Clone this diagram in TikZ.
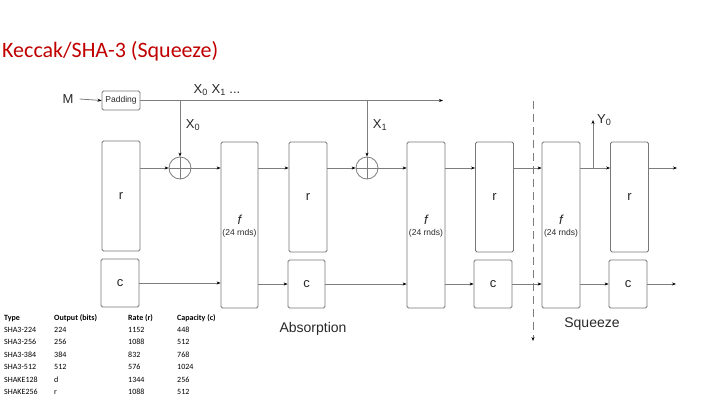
\documentclass[tikz,border=0pt]{standalone}
\usepackage{fontspec}
\setmainfont{Liberation Sans}
\newfontfamily\calib{Carlito}
\usetikzlibrary{arrows.meta}
\definecolor{titlered}{RGB}{192,0,0}
\definecolor{lgray}{RGB}{125,125,125}
\definecolor{bgray}{RGB}{120,120,120}
\definecolor{txtgray}{RGB}{40,40,40}
\begin{document}
\begin{tikzpicture}[x=1pt,y=-1pt,
  every node/.style={inner sep=0pt, text=txtgray},
  blk/.style={draw=bgray, line width=0.8pt, rounded corners=1.5pt, fill=white},
  xorc/.style={circle, draw=lgray, line width=0.8pt, minimum size=22pt, inner sep=0pt,
    path picture={\draw[lgray, line width=0.8pt] (path picture bounding box.north) -- (path picture bounding box.south)
      (path picture bounding box.west) -- (path picture bounding box.east);}},
  arr/.style={draw=lgray, line width=0.8pt, -{Stealth[length=4pt,width=3pt,color=black]}},
  lab/.style={font=\fontsize{14}{16}\selectfont},
  tab/.style={anchor=base west, font=\calib\fontsize{8}{9}\selectfont, text=black},
  tabh/.style={anchor=base west, font=\calib\bfseries\fontsize{8}{9}\selectfont, text=black}]
\useasboundingbox (0,0) rectangle (720,405);
% title
\node[anchor=base west, font=\calib\fontsize{22}{26}\selectfont, text=titlered] (title) at (2,57) {Keccak/SHA-3 (Squeeze)};
% helper coordinate for the upper line level
\coordinate (U) at (0,168);
% input
\node[font=\fontsize{13}{15}\selectfont] (M) at (68,99) {M};
\node[blk, minimum width=38pt, minimum height=19pt, font=\fontsize{8.5}{10}\selectfont] (pad) at (121,100.5) {Padding};
\coordinate (topend) at (443,100.5);
\node[font=\fontsize{13}{15}\selectfont] (xs) at (217,90) {X\textsubscript{0} X\textsubscript{1} ...};
% boxes
\node[blk, minimum width=38pt, minimum height=110pt, font=\fontsize{13}{15}\selectfont] (r1) at (121,196) {r};
\node[blk, minimum width=38pt, minimum height=48pt, font=\fontsize{13}{15}\selectfont] (c1) at (120,283) {c};
\node[blk, minimum width=37pt, minimum height=166pt] (f1) at (239.5,225) {};
\node[blk, minimum width=38pt, minimum height=110pt, font=\fontsize{13}{15}\selectfont] (r2) at (308,197) {r};
\node[blk, minimum width=37pt, minimum height=48pt, font=\fontsize{13}{15}\selectfont] (c2) at (306.5,284) {c};
\node[blk, minimum width=38pt, minimum height=166pt] (f2) at (426,225) {};
\node[blk, minimum width=38pt, minimum height=110pt, font=\fontsize{13}{15}\selectfont] (r3) at (494.5,197) {r};
\node[blk, minimum width=38pt, minimum height=48pt, font=\fontsize{13}{15}\selectfont] (c3) at (493,284) {c};
\node[blk, minimum width=38pt, minimum height=166pt] (f3) at (561,225) {};
\node[blk, minimum width=38pt, minimum height=110pt, font=\fontsize{13}{15}\selectfont] (r4) at (629.5,197) {r};
\node[blk, minimum width=38pt, minimum height=48pt, font=\fontsize{13}{15}\selectfont] (c4) at (628,284) {c};
% f labels
\foreach \f in {f1,f2,f3}{
  \node[font=\itshape\fontsize{13}{15}\selectfont] (\f t) at ([yshift=5pt]\f.center) {f};
  \node[font=\fontsize{8.5}{10}\selectfont] (\f r) at ([yshift=-8pt]\f.center) {(24 rnds)};
}
% xors
\node[xorc] (x1) at (180,168) {};
\node[xorc] (x2) at (367,168) {};
\node[font=\fontsize{13}{15}\selectfont] (x0l) at (193,125) {X\textsubscript{0}};
\node[font=\fontsize{13}{15}\selectfont] (x1l) at (380,125) {X\textsubscript{1}};
% top lines
\coordinate (Me) at ([xshift=6pt]M.east);
\draw[arr] (Me) -- (pad.west);
\draw[arr] (pad.east) -- (topend);
\draw[arr] (pad.east -| x1) -- (x1.north);
\draw[arr] (pad.east -| x2) -- (x2.north);
% upper chain
\draw[arr] (r1.east |- U) -- (x1.west);
\draw[arr] (x1.east) -- (f1.west |- U);
\draw[arr] (f1.east |- U) -- (r2.west |- U);
\draw[arr] (r2.east |- U) -- (x2.west);
\draw[arr] (x2.east) -- (f2.west |- U);
\draw[arr] (f2.east |- U) -- (r3.west |- U);
\draw[arr] (r3.east |- U) -- (f3.west |- U);
\draw[arr] (f3.east |- U) -- (r4.west |- U);
\coordinate (o1) at (677,168);
\draw[arr] (r4.east |- U) -- (o1);
% lower chain
\draw[arr] (c1.east) -- (c1.east -| f1.west);
\draw[arr] (f1.east |- c2) -- (c2.west);
\draw[arr] (c2.east) -- (c2.east -| f2.west);
\draw[arr] (f2.east |- c3) -- (c3.west);
\draw[arr] (c3.east) -- (c3.east -| f3.west);
\draw[arr] (f3.east |- c4) -- (c4.west);
\coordinate (o2) at (676,284);
\draw[arr] (c4.east) -- (o2);
% Y0 output
\coordinate (ytop) at (593,120);
\draw[arr] (ytop |- U) -- (ytop);
\node[anchor=west, font=\fontsize{13}{15}\selectfont] (y0) at (597,120) {Y\textsubscript{0}};
% dashed separator
\coordinate (dtop) at (533,101);
\coordinate (dbot) at (533,341);
\draw[arr, dash pattern=on 8pt off 5pt] (dtop) -- (dbot);
% phase labels
\node[lab] (abs) at (313,329) {Absorption};
\node[lab] (sq) at (592,324) {Squeeze};
% table
\node[tabh] (h1) at (4,320) {Type};
\node[tabh] (h2) at (54,320) {Output (bits)};
\node[tabh] (h3) at (128,320) {Rate (r)};
\node[tabh] (h4) at (177,320) {Capacity (c)};
\foreach \t/\o/\r/\c [count=\i] in {SHA3-224/224/1152/448, SHA3-256/256/1088/512, SHA3-384/384/832/768, SHA3-512/512/576/1024, SHAKE128/d/1344/256, SHAKE256/r/1088/512}{
  \pgfmathsetmacro{\yy}{320+12.4*\i}
  \node[tab] (t\i a) at (4,\yy) {\t};
  \node[tab] (t\i b) at (54,\yy) {\o};
  \node[tab] (t\i c) at (128,\yy) {\r};
  \node[tab] (t\i d) at (177,\yy) {\c};
}
\end{tikzpicture}
\end{document}
